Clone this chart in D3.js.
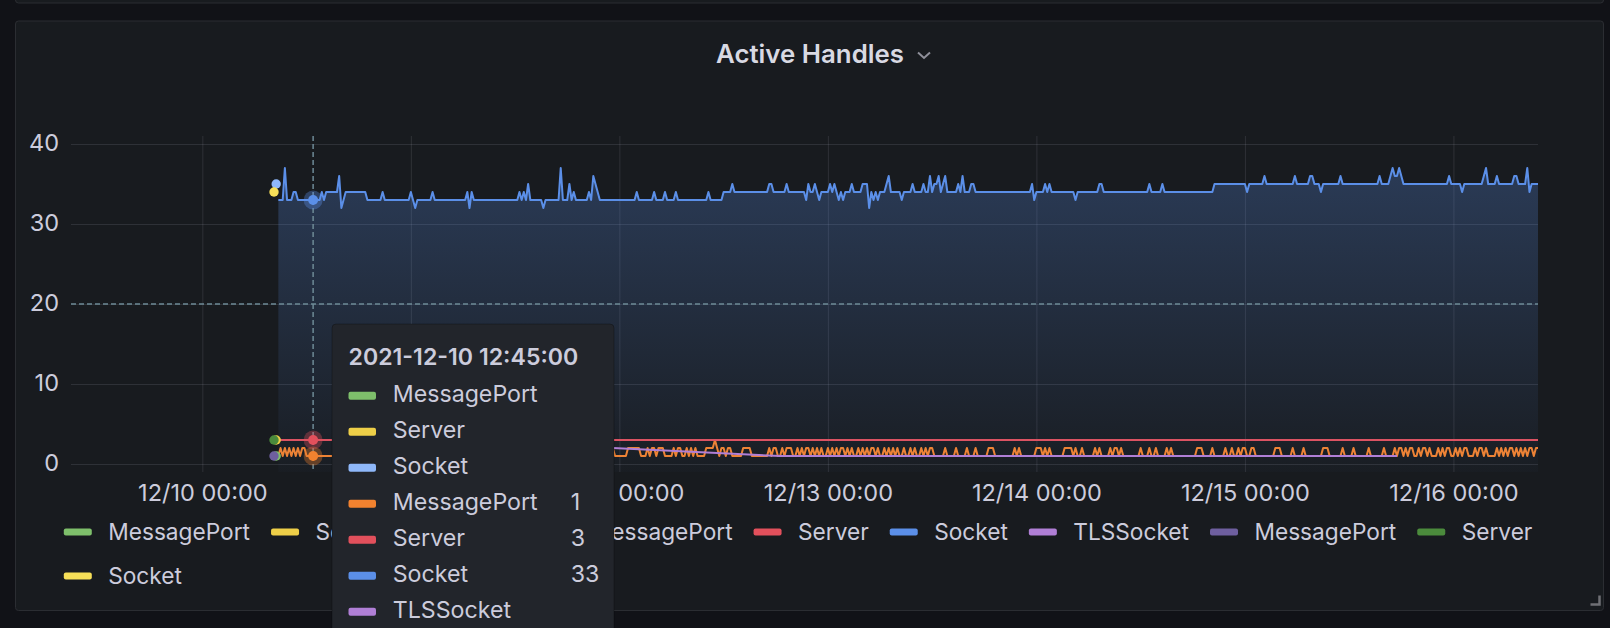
<!DOCTYPE html>
<html><head><meta charset="utf-8">
<script src="https://cdn.jsdelivr.net/npm/d3@7"></script>
<style>
html,body{margin:0;padding:0;background:#111217;overflow:hidden}
svg{display:block;font-family:Inter,"Noto Sans",sans-serif}
</style></head><body>
<svg id="chart" width="1610" height="628"></svg>
<script>
// ---------------- DATA ----------------
const chartTitle = "Active Handles";
const seriesNames = ["MessagePort","Server","Socket","MessagePort","Server","Socket","TLSSocket","MessagePort","Server","Socket"];
const seriesColors = ["#7ebf6b","#eecf48","#8fb8fa","#f2822f","#e2505c","#5b8fe8","#b07fd6","#6e5f9f","#4b8b3c","#f6df58"];

const xDomain = ["2021-12-09 08:53", "2021-12-16 09:44"];
const xTickTimes = ["2021-12-10 00:00","2021-12-11 00:00","2021-12-12 00:00","2021-12-13 00:00","2021-12-14 00:00","2021-12-15 00:00","2021-12-16 00:00"];
const yDomain = [-1, 41];
const yTicks = [0, 10, 20, 30, 40];

// 15-minute samples starting here (581 samples)
const sampleStart = "2021-12-10 08:45";
const sampleMinutes = 15;
const sampleCount = 581;

// series that only have one isolated sample
const singleSeriesIndex = [0, 1, 2, 7, 8, 9];
const singleTimes = ["2021-12-10 08:30","2021-12-10 08:30","2021-12-10 08:30","2021-12-10 08:15","2021-12-10 08:15","2021-12-10 08:15"];
const singleValues = [1, 3, 35, 1, 3, 34];

// MessagePort (orange): runs of [value, number of samples]
const messagePortRuns1 = [[1,1],[2,1],[1,1],[2,1],[1,1],[2,1],[1,1],[2,1],[1,1],[2,1],[1,1],[2,2]];
const messagePortRuns2 = [[1,20],[2,2],[1,10],[2,1],[1,12],[2,3],[1,15],[2,1],[1,20],[2,2],[1,14],[2,1],[1,10],[2,4],[1,12],[2,1],[1,6],[2,8]];
const messagePortRuns3 = [[1,6],[2,6],[1,3],[2,1],[1,1],[2,2],[1,1],[2,3],[1,4],[2,1],[1,1],[2,2],[1,2],[2,1],[1,1],[2,1],[1,1],[2,1],[1,4],[2,4],[3,1],[2,1],[1,1],[2,2],[1,1],[2,2],[1,5],[2,4],[1,8],[2,1],[1,1],[2,2],[1,2],[2,1],[1,1],[2,3],[1,2],[2,1],[1,1],[2,1],[1,1],[2,2],[1,1],[2,1],[1,1],[2,1],[1,1],[2,1],[1,2],[2,1],[1,1],[2,1],[1,1],[2,1],[1,1],[2,2],[1,1],[2,1],[1,1],[2,1],[1,2],[2,1],[1,1],[2,1],[1,1],[2,1],[1,1],[2,2],[1,1],[2,1],[1,2],[2,1],[1,1],[2,1],[1,1],[2,1],[1,1],[2,1],[1,2],[2,1],[1,2],[2,1],[1,1],[2,1],[1,2]];
const messagePortRuns4 = [[2,1],[1,1],[2,1],[1,1],[2,2],[1,5],[2,1],[1,4],[2,1],[1,4],[2,1],[1,3],[2,1],[1,5],[2,3],[1,9],[2,1],[1,1],[2,1],[1,7],[2,3],[1,1],[2,1],[1,1],[2,1],[1,6],[2,4],[1,1],[2,1],[1,2],[2,1],[1,5],[2,1],[1,1],[2,1],[1,4],[2,1],[1,1],[2,2],[1,1],[2,1],[1,8],[2,1],[1,3],[2,1],[1,2],[2,1],[1,4],[2,1],[1,1],[2,1],[1,11],[2,3],[1,4],[2,1],[1,5],[2,1],[1,2],[2,1],[1,2],[2,1],[1,1],[2,2],[1,2],[2,2],[1,9],[2,3],[1,5],[2,1],[1,4],[2,1],[1,8],[2,3],[1,6],[2,1],[1,4],[2,1],[1,6],[2,1],[1,6],[2,1],[1,4]];
const messagePortRuns5 = [[2,1],[1,1],[2,2],[1,1],[2,1],[1,1],[2,2],[1,2],[2,1],[1,1],[2,2],[1,1],[2,1],[1,3],[2,1],[1,1],[2,1],[1,1],[2,2],[1,2],[2,1],[1,1],[2,1],[1,1],[2,2],[1,3],[2,1],[1,1],[2,2],[1,1],[2,1],[1,4],[2,1],[1,1],[2,1],[1,1],[2,1],[1,1],[2,2],[1,1],[2,1],[1,1],[2,1],[1,1],[2,1],[1,1],[2,2],[1,1],[2,2]];

// Server (red): runs of [value, samples]
const serverRuns = [[3, 581]];

// Socket (blue): [sample index, value from that sample on]
const socketChanges = [[0,33],[3,37],[4,33],[7,34],[9,33],[20,34],[21,33],[22,34],[28,36],[29,32],[30,33],[31,34],[41,33],[48,34],[49,33],[61,34],[62,33],[63,32],[64,33],[71,34],[72,33],[87,34],[88,32],[89,34],[90,33],[111,34],[112,33],[113,34],[114,33],[115,35],[116,33],[122,32],[123,33],[130,37],[131,33],[134,35],[135,33],[136,34],[137,33],[143,34],[144,33],[145,36],[146,35],[147,34],[148,33],[165,34],[166,33],[173,34],[174,33],[178,34],[179,33],[183,34],[184,33],[198,34],[199,33],[205,34],[209,35],[210,34],[226,35],[228,34],[234,35],[235,34],[243,33],[244,35],[245,34],[247,35],[248,34],[249,33],[250,34],[254,35],[255,34],[256,35],[257,34],[258,33],[259,34],[260,33],[261,34],[264,35],[265,34],[269,35],[272,32],[273,34],[274,33],[275,34],[276,33],[277,34],[280,35],[281,36],[282,34],[287,33],[288,34],[292,35],[293,34],[297,35],[298,34],[300,36],[301,34],[302,35],[304,36],[305,34],[306,35],[307,36],[308,34],[313,35],[314,34],[315,36],[316,34],[319,35],[321,34],[347,35],[348,33],[349,34],[353,35],[354,34],[355,35],[356,34],[367,33],[368,34],[378,35],[380,34],[401,35],[402,34],[407,35],[408,34],[431,35],[446,34],[447,35],[454,36],[455,35],[468,36],[469,35],[475,36],[477,35],[480,34],[481,35],[489,36],[490,35],[507,36],[508,35],[512,36],[513,37],[514,36],[516,37],[517,36],[518,35],[539,36],[540,35],[545,34],[546,35],[555,36],[556,37],[557,35],[561,36],[562,35],[569,36],[571,35],[575,37],[576,34],[577,35]];

// TLSSocket (purple): [sample index, value] samples (gaps connected)
const tlsSocketSamples = [[154,2],[231,1],[515,1]];

const hoverTime = "2021-12-10 12:45";
const hoverY = 20;

// ---------------- RENDER ----------------
const W = 1610, H = 628;
const P = {left:71, right:1538, top:136, bottom:472};
const parse = d3.timeParse("%Y-%m-%d %H:%M");
const x = d3.scaleTime().domain(xDomain.map(parse)).range([P.left, P.right]);
const y = d3.scaleLinear().domain(yDomain).range([P.bottom, P.top]);
const t0 = parse(sampleStart);
const tAt = i => d3.timeMinute.offset(t0, i*sampleMinutes);

function expandRuns(runs){ const out=[]; runs.forEach(([v,c])=>{ for(let k=0;k<c;k++) out.push(v); }); return out; }
function expandChanges(ch, n){ const out=[]; let k=0, v=null; for(let i=0;i<n;i++){ while(k<ch.length && ch[k][0]<=i){ v=ch[k][1]; k++; } out.push(v);} return out; }

const orangeVals = expandRuns([].concat(messagePortRuns1,messagePortRuns2,messagePortRuns3,messagePortRuns4,messagePortRuns5));
const redVals = expandRuns(serverRuns);
const blueVals = expandChanges(socketChanges, sampleCount);

const seriesData = seriesNames.map(()=>[]);
singleSeriesIndex.forEach((s,i)=>{ seriesData[s] = [{t:parse(singleTimes[i]), v:singleValues[i]}]; });
seriesData[3] = orangeVals.map((v,i)=>({t:tAt(i), v}));
seriesData[4] = redVals.map((v,i)=>({t:tAt(i), v}));
seriesData[5] = blueVals.map((v,i)=>({t:tAt(i), v}));
seriesData[6] = tlsSocketSamples.map(([i,v])=>({t:tAt(i), v}));

const svg = d3.select("#chart");
const fg = "#ccccdc";

// font sizes calibrated so that reference text widths match
function fitFont(str, targetW, weight){
  const t = svg.append("text").attr("font-size",100).attr("font-weight",weight).attr("font-family","Inter").text(str);
  const w = t.node().getComputedTextLength(); t.remove();
  return 100*targetW/w;
}
const legSwatchGap = 44.4, legItemGap = 21;
const fsLegend = fitFont(seriesNames.slice(0,9).join(""), 1532.4-63.8-9*legSwatchGap-8*legItemGap, 400);
const fsTooltip = fitFont("MessagePort", 145, 400);
const fsTick = fitFont("12/10 00:00", 129.6, 400);
const fsTitle = fitFont("Active Handles", 188, 600);
const fsDate = fitFont("2021-12-10 12:45:00", 230, 600);

// page + panels
svg.append("rect").attr("x",0).attr("y",0).attr("width",W).attr("height",H).attr("fill","#111217");
svg.append("rect").attr("x",15.5).attr("y",-20).attr("width",1588).attr("height",23).attr("rx",3)
  .attr("fill","#181b1f").attr("stroke","#2b2d32").attr("stroke-width",1);
svg.append("rect").attr("x",15.5).attr("y",21).attr("width",1588).attr("height",589.5).attr("rx",3)
  .attr("fill","#181b1f").attr("stroke","#2b2d32").attr("stroke-width",1);

// title
svg.append("text").attr("x",810).attr("y",63).attr("text-anchor","middle")
  .attr("fill","#d8d9e3").attr("font-size",fsTitle).attr("font-weight",600).text(chartTitle);
svg.append("path").attr("d","M918,52.5 L924,58 L930,52.5").attr("fill","none")
  .attr("stroke","#8e8f99").attr("stroke-width",2);

// grid + axes
const yAxis = d3.axisLeft(y).tickValues(yTicks).tickSize(-(P.right-P.left)).tickPadding(12);
const gy = svg.append("g").attr("transform",`translate(${P.left},0)`).call(yAxis);
gy.select(".domain").remove();
gy.selectAll("line").attr("stroke","rgba(204,204,220,0.13)").attr("stroke-width",1);
gy.selectAll("text").attr("fill",fg).attr("font-size",fsTick).attr("font-family","Inter").attr("dy","0.28em");

const xAxis = d3.axisBottom(x).tickValues(xTickTimes.map(parse)).tickFormat(d3.timeFormat("%m/%d %H:%M"))
  .tickSize(-(P.bottom-P.top)).tickPadding(12);
const gx = svg.append("g").attr("transform",`translate(0,${P.bottom})`).call(xAxis);
gx.select(".domain").remove();
gx.selectAll("line").attr("stroke","rgba(204,204,220,0.13)").attr("stroke-width",1);
gx.selectAll("text").attr("fill",fg).attr("font-size",fsTick).attr("font-family","Inter");

// clip
svg.append("clipPath").attr("id","plotclip").append("rect")
  .attr("x",P.left).attr("y",P.top).attr("width",P.right-P.left).attr("height",P.bottom-P.top);
const gPlot = svg.append("g").attr("clip-path","url(#plotclip)");

// gradient for Socket fill
const defs = svg.append("defs");
const grad = defs.append("linearGradient").attr("id","sockfill").attr("gradientUnits","userSpaceOnUse")
  .attr("x1",0).attr("x2",0).attr("y1",P.top).attr("y2",P.bottom);
grad.append("stop").attr("offset",0).attr("stop-color",seriesColors[5]).attr("stop-opacity",0.30);
grad.append("stop").attr("offset",1).attr("stop-color",seriesColors[5]).attr("stop-opacity",0.02);

const line = d3.line().x(d=>x(d.t)).y(d=>y(d.v));
const area = d3.area().x(d=>x(d.t)).y0(P.bottom).y1(d=>y(d.v));

seriesData.forEach((data,s)=>{
  if (data.length < 2) return;
  if (s === 5) gPlot.append("path").datum(data).attr("d",area).attr("fill","url(#sockfill)");
  gPlot.append("path").datum(data).attr("d",line).attr("fill","none")
    .attr("stroke",seriesColors[s]).attr("stroke-width",2).attr("stroke-linejoin","round");
});
// isolated points (drawn in series order)
seriesData.forEach((data,s)=>{
  if (data.length !== 1) return;
  gPlot.append("circle").attr("cx",x(data[0].t)).attr("cy",y(data[0].v)).attr("r",4.7).attr("fill",seriesColors[s]);
});

// crosshair
const hx = x(parse(hoverTime));
const cross = "#6e8a96";
svg.append("line").attr("x1",hx).attr("x2",hx).attr("y1",P.top).attr("y2",P.bottom)
  .attr("stroke",cross).attr("stroke-width",1.5).attr("stroke-dasharray","5,3");
svg.append("line").attr("x1",P.left).attr("x2",P.right).attr("y1",y(hoverY)).attr("y2",y(hoverY))
  .attr("stroke",cross).attr("stroke-width",1.5).attr("stroke-dasharray","5,3");

// hover values
const hoverVals = seriesData.map(data=>{
  const d = data.find(p=>+p.t === +parse(hoverTime));
  return d ? d.v : null;
});
hoverVals.forEach((v,s)=>{
  if (v == null) return;
  svg.append("circle").attr("cx",hx).attr("cy",y(v)).attr("r",9.5).attr("fill",seriesColors[s]).attr("opacity",0.35);
  svg.append("circle").attr("cx",hx).attr("cy",y(v)).attr("r",5).attr("fill",seriesColors[s]);
});

// legend
const lg = svg.append("g");
let lx = 63.8, ly = 532, rowH = 44;
seriesNames.forEach((name,s)=>{
  const g = lg.append("g");
  const txt = g.append("text").attr("x",lx+legSwatchGap).attr("y",ly+8).attr("fill",fg)
    .attr("font-size",fsLegend).text(name);
  const w = txt.node().getComputedTextLength();
  if (lx + legSwatchGap + w > 1595) {
    lx = 63.8; ly += rowH;
    txt.attr("x",lx+legSwatchGap).attr("y",ly+8);
  }
  g.append("rect").attr("x",lx).attr("y",ly-3.5).attr("width",28).attr("height",7).attr("rx",2).attr("fill",seriesColors[s]);
  lx += legSwatchGap + w + legItemGap;
});

// tooltip
const tt = svg.append("g");
tt.append("rect").attr("x",332).attr("y",324).attr("width",282).attr("height",420).attr("rx",4)
  .attr("fill","#22252b").attr("stroke","rgba(0,0,0,0.25)");
tt.append("text").attr("x",348.5).attr("y",364.5).attr("fill",fg).attr("font-size",fsDate).attr("font-weight",600)
  .text(d3.timeFormat("%Y-%m-%d %H:%M:%S")(parse(hoverTime)));
seriesNames.forEach((name,s)=>{
  const cy = 395.7 + 36*s;
  if (cy - 12 > H) return; // rows below the visible window
  tt.append("rect").attr("x",348.5).attr("y",cy-4).attr("width",27.5).attr("height",8).attr("rx",2).attr("fill",seriesColors[s]);
  tt.append("text").attr("x",392.7).attr("y",cy+6.5).attr("fill",fg).attr("font-size",fsTooltip).text(name);
  if (hoverVals[s] != null)
    tt.append("text").attr("x",570.7).attr("y",cy+6.5).attr("fill",fg).attr("font-size",fsTooltip).text(hoverVals[s]);
});

// resize handle
svg.append("path").attr("d","M1590.5,604.5 H1599.5 V595.5").attr("fill","none").attr("stroke","#6f7075").attr("stroke-width",2.5);
</script>
</body></html>
